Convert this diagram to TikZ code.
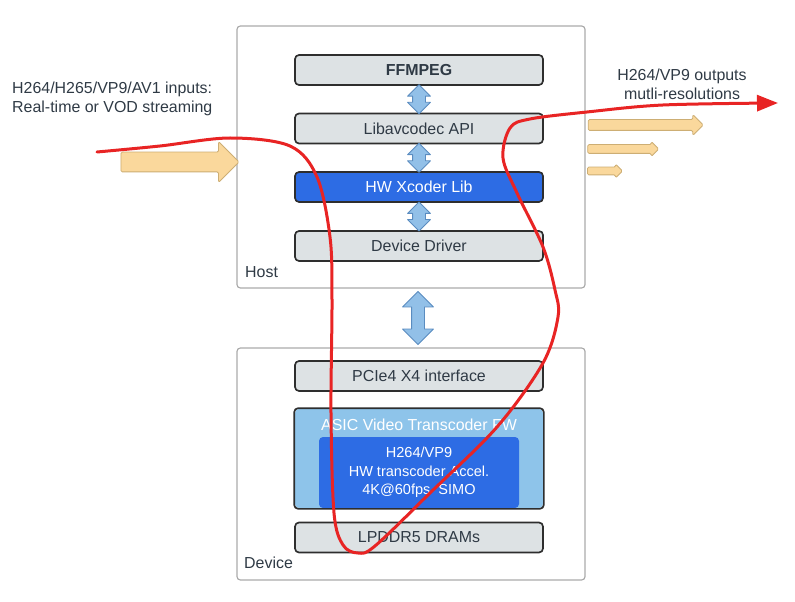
\documentclass[tikz,border=0pt]{standalone}
\usepackage{fontspec}
\setmainfont{Liberation Sans}
\usepackage{tikz}
\usetikzlibrary{arrows.meta,positioning,calc,shapes.arrows}
\definecolor{ink}{HTML}{2F3A45}
\definecolor{boxgray}{HTML}{DDE2E4}
\definecolor{boxline}{HTML}{2E2E2E}
\definecolor{xblue}{HTML}{2D6CE4}
\definecolor{skyblue}{HTML}{8EC4EA}
\definecolor{linkfill}{HTML}{92C0E8}
\definecolor{linkline}{HTML}{5A8CC0}
\definecolor{sand}{HTML}{FAD89C}
\definecolor{sandline}{HTML}{CDAE74}
\definecolor{framegray}{HTML}{ABABAB}
\definecolor{flowred}{HTML}{E82424}
\newcommand{\labelfont}{\fontsize{13.6}{16.2}\selectfont}
\tikzset{
    every picture/.style={line cap=round,line join=round},
    frame/.style={draw=framegray,fill=white,line width=0.35mm,rounded corners=1mm,
      minimum width=104.4mm,inner sep=0pt},
    layerbox/.style={draw=boxline,fill=boxgray,line width=0.5mm,rounded corners=1.2mm,
      minimum width=74.4mm,minimum height=9mm,inner sep=0pt,
      font=\labelfont,text=ink},
    bluebox/.style={layerbox,fill=xblue,text=white},
    linkarrow/.style={double arrow,rotate=90,draw=linkline,fill=linkfill,
      line width=0.25mm,inner xsep=0pt,inner ysep=1.8mm,double arrow head extend=1.5mm},
    feedarrow/.style={single arrow,draw=sandline,fill=sand,line width=0.25mm,
      inner xsep=0pt,rounded corners=0.4mm},
    flowcurve/.style={draw=flowred,line width=0.9mm,
      -{Triangle[length=6.3mm,width=4.8mm]}},
    plainlabel/.style={font=\labelfont,text=ink,align=center,inner sep=0pt}
}
\begin{document}
\begin{tikzpicture}[x=0.3mm,y=-0.3mm]
  \useasboundingbox (0,0) rectangle (795,602);
  % host side
  \node[frame,minimum height=78.6mm] (host) at (411,157) {};
  \node[layerbox,font=\labelfont\bfseries] (ffmpeg) at (419,70) {FFMPEG};
  \node[layerbox] (libav) at (419,128.5) {Libavcodec API};
  \node[bluebox] (xcoder) at (419,187) {HW Xcoder Lib};
  \node[layerbox] (driver) at (419,246) {Device Driver};
  \node[plainlabel,anchor=west] (hostlabel) at (245,272) {Host};
  \node[linkarrow,minimum height=8.7mm] (link1) at ($(ffmpeg.south)!0.5!(libav.north)$) {};
  \node[linkarrow,minimum height=8.7mm] (link2) at ($(libav.south)!0.5!(xcoder.north)$) {};
  \node[linkarrow,minimum height=8.7mm] (link3) at ($(xcoder.south)!0.5!(driver.north)$) {};
  % device side
  \node[frame,minimum height=69.6mm] (device) at (411,464) {};
  \node[layerbox] (pcie) at (419,376) {PCIe4 X4 interface};
  \node[layerbox,draw=none,fill=skyblue,minimum height=29.7mm] (asic) at (419,458.5) {};
  \node[plainlabel,text=white,below=3.2mm of asic.north] (asictitle) {ASIC Video Transcoder FW};
  \node[fill=xblue,rounded corners=1.2mm,minimum width=60mm,minimum height=21.3mm,
    inner sep=0pt,text=white,align=center,font=\fontsize{12.4}{15.6}\selectfont]
    (accel) at (419,472.5) {H264/VP9\\HW transcoder Accel.\\4K@60fps~~SIMO};
  \draw[draw=boxline,line width=0.5mm,rounded corners=1.2mm]
    (asic.south west) rectangle (asic.north east);
  \node[layerbox] (dram) at (419,537.5) {LPDDR5 DRAMs};
  \node[plainlabel,anchor=west] (devicelabel) at (244,563) {Device};
  \node[linkarrow,minimum height=15.9mm,double arrow head extend=2.7mm]
    (hostlink) at ($(host.south)!0.5!(device.north)+(7,0)$) {};
  % streams in and out
  \node[plainlabel,align=left,anchor=west] (inlabel) at (12,98.5)
    {H264/H265/VP9/AV1 inputs:\\Real-time or VOD streaming};
  \node[plainlabel] (outlabel) at (682,84) {H264/VP9 outputs\\mutli-resolutions};
  \node[feedarrow,minimum height=35.4mm,inner ysep=2.85mm,single arrow head extend=3.15mm]
    (input) at (175,162) {};
  \node[feedarrow,minimum height=34.5mm,inner ysep=1.5mm,single arrow head extend=1.5mm]
    (out1) at (643,125) {};
  \node[feedarrow,minimum height=21.3mm,inner ysep=1.2mm,single arrow head extend=0.9mm]
    (out2) at (621,149) {};
  \node[feedarrow,minimum height=10.5mm,inner ysep=1.05mm,single arrow head extend=0.9mm]
    (out3) at (603,171) {};
  % data path through the card
  \coordinate (flowin) at (97,152);
  \coordinate (flowout) at (778,103);
  \draw[flowcurve] plot[smooth,tension=0.55] coordinates {(flowin) (160,146) (230,138)
    (290,146) (317,177) (330,237) (332,300) (331,413) (334,513) (343,545) (358,553)
    (375,546) (430,493) (497,427) (543,363) (558,317) (555,290) (543,247) (517,193)
    (503,158) (510,128) (530,119) (587,112) (663,105) (flowout)};
\end{tikzpicture}
\end{document}
